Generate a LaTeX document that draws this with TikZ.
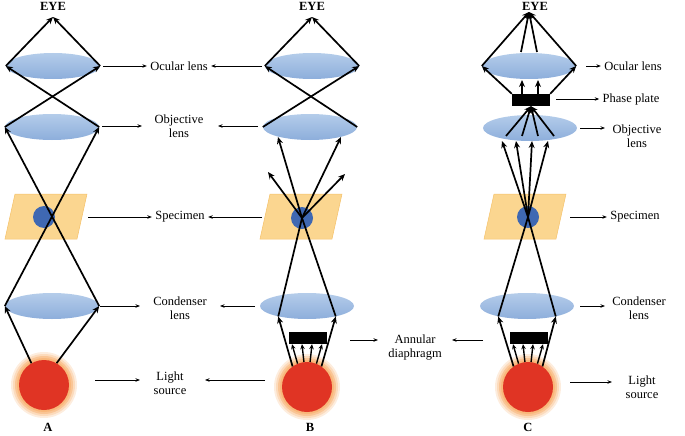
\documentclass[tikz,border=0pt]{standalone}
\usepackage{fontspec}
\setmainfont{Liberation Serif}
\usetikzlibrary{shapes.geometric,arrows.meta}
\definecolor{lensA}{HTML}{B4CCEA}
\definecolor{lensB}{HTML}{8DAEDB}
\definecolor{spec}{HTML}{FBD690}
\definecolor{specE}{HTML}{F5C26B}
\definecolor{dotc}{HTML}{3F68B2}
\definecolor{redc}{HTML}{E03424}
\definecolor{glowc}{HTML}{F9B77A}
\tikzset{
 lens/.style={ellipse,minimum width=94pt,minimum height=26pt,inner sep=0pt,top color=lensA,bottom color=lensB,draw=none},
 ray/.style={line width=1.7pt,-{Stealth[length=7pt,width=6pt]}},
 sray/.style={line width=1.4pt,-{Stealth[length=5pt,width=4.5pt]}},
 pl/.style={line width=1.7pt},
 lab/.style={-{Stealth[length=4.5pt,width=3.5pt]},line width=0.8pt},
 txt/.style={font=\fontsize{12.5}{14}\selectfont,align=center},
 big/.style={font=\bfseries\fontsize{12.5}{14}\selectfont},
 plate/.style={fill=black,minimum width=38pt,minimum height=12pt,inner sep=0pt},
 dot/.style={circle,fill=dotc,minimum size=22pt,inner sep=0pt},
 src/.style={circle,fill=redc,minimum size=50pt,inner sep=0pt},
}
\newcommand{\specimen}[1]{%
 \fill[spec,draw=specE,line width=0.5pt] (#1+10,194) -- (#1+82,194) -- (#1+72,239) -- (#1,239) -- cycle;}
\newcommand{\glow}[2]{%
 \fill[glowc!25] (#1,#2) circle (33pt);
 \fill[glowc!50] (#1,#2) circle (31pt);
 \fill[glowc!80] (#1,#2) circle (29pt);
 \fill[glowc] (#1,#2) circle (27pt);}
\begin{document}
\begin{tikzpicture}[x=1pt,y=-1pt]
\useasboundingbox (0,0) rectangle (685,436);
% ---------- A ----------
\node[big] (eyeA) at (53,6) {EYE};
\coordinate (tA) at (53,17);
\node[lens] (ocA) at (53,66) {};
\node[lens] (obA) at (52,127) {};
\specimen{5}
\node[dot] (dA) at (44,217) {};
\node[lens] (coA) at (52,306) {};
\glow{44}{385}
\node[src] (lA) at (44,385) {};
\node[big] (nA) at (48,427) {A};
\draw[ray] (lA.120) -- (coA.west);
\draw[ray] (lA.60) -- (coA.east);
\draw[ray] (coA.west) -- (obA.east);
\draw[ray] (coA.east) -- (obA.west);
\draw[ray] (obA.west) -- (ocA.east);
\draw[ray] (obA.east) -- (ocA.west);
\draw[ray] (ocA.west) -- (tA);
\draw[ray] (ocA.east) -- (tA);
% ---------- B ----------
\node[big] (eyeB) at (312,6) {EYE};
\coordinate (tB) at (312,17);
\node[lens] (ocB) at (312,66) {};
\node[lens] (obB) at (310,127) {};
\specimen{260}
\node[dot] (dB) at (302,218) {};
\node[lens] (coB) at (307,306) {};
\node[plate] (apB) at (308,338) {};
\glow{307}{387}
\node[src] (lB) at (307,387) {};
\node[big] (nB) at (310,427) {B};
\coordinate (sB1) at (268,172);
\coordinate (sB2) at (345,174);
\coordinate (oB1) at (278,137);
\coordinate (oB2) at (341,137);
\draw[ray] (lB.125) -- (coB.200);
\draw[ray] (lB.55) -- (coB.-20);
\foreach \a/\x in {112/292,97/302,83/312,68/322}
  \draw[sray] (lB.\a) -- (apB.south -| \x,0);
\draw[pl] (coB.200) -- (dB.center);
\draw[pl] (coB.-20) -- (dB.center);
\draw[ray] (dB.center) -- (sB1);
\draw[ray] (dB.center) -- (sB2);
\draw[ray] (dB.center) -- (oB1);
\draw[ray] (dB.center) -- (oB2);
\draw[ray] (obB.west) -- (ocB.east);
\draw[ray] (obB.east) -- (ocB.west);
\draw[ray] (ocB.west) -- (tB);
\draw[ray] (ocB.east) -- (tB);
% ---------- C ----------
\node[big] (eyeC) at (535,6) {EYE};
\coordinate (tC) at (529,12);
\node[lens] (ocC) at (529,66) {};
\node[plate] (ppC) at (531,100) {};
\node[lens] (obC) at (530,128) {};
\specimen{484}
\node[dot] (dC) at (528,217) {};
\node[lens] (coC) at (527,306) {};
\node[plate] (apC) at (529,338) {};
\glow{528}{387}
\node[src] (lC) at (528,387) {};
\node[big] (nC) at (528,427) {C};
\draw[ray] (lC.125) -- (coC.200);
\draw[ray] (lC.55) -- (coC.-20);
\foreach \a/\x in {112/513,97/523,83/533,68/543}
  \draw[sray] (lC.\a) -- (apC.south -| \x,0);
\draw[pl] (coC.200) -- (dC.center);
\draw[pl] (coC.-20) -- (dC.center);
\foreach \x in {502,516,532,548}
  \draw[ray] (dC.center) -- (\x,141);
\foreach \x in {506,522,538,554}
  \draw[ray] (\x,136) -- (ppC.south);
\draw[ray] (ppC.north west) -- (ocC.west);
\draw[ray] (ppC.north east) -- (ocC.east);
\draw[ray] (ppC.north -| 522,0) -- (522,80);
\draw[ray] (ppC.north -| 538,0) -- (538,80);
\draw[ray] (ocC.west) -- (tC);
\draw[ray] (ocC.east) -- (tC);
\draw[ray] (521,52) -- (tC);
\draw[ray] (537,52) -- (tC);
% ---------- labels ----------
\node[txt] (Loc) at (179,66) {Ocular lens};
\node[txt] (Lob) at (179,126) {Objective\\lens};
\node[txt] (Lsp) at (180,217) {Specimen};
\node[txt] (Lco) at (180,308) {Condenser\\lens};
\node[txt] (Lls) at (170,383) {Light\\source};
\node[txt] (Lad) at (415,348) {Annular\\diaphragm};
\node[txt] (Roc) at (633,66) {Ocular lens};
\node[txt] (Rpp) at (631,99) {Phase plate};
\node[txt] (Rob) at (637,136) {Objective\\lens};
\node[txt] (Rsp) at (635,217) {Specimen};
\node[txt] (Rco) at (639,308) {Condenser\\lens};
\node[txt] (Rls) at (642,387) {Light\\source};
\draw[lab] (103,66) -- (Loc.west);
\draw[lab] (262,66) -- (Loc.east);
\draw[lab] (102,126) -- (142,126);
\draw[lab] (258,126) -- (218,126);
\draw[lab] (88,217) -- (Lsp.west);
\draw[lab] (262,217) -- (Lsp.east);
\draw[lab] (100,306) -- (140,306);
\draw[lab] (255,306) -- (220,306);
\draw[lab] (95,380) -- (140,380);
\draw[lab] (265,380) -- (205,380);
\draw[lab] (350,340) -- (378,340);
\draw[lab] (483,340) -- (452,340);
\draw[lab] (586,66) -- (Roc.west);
\draw[lab] (556,99) -- (Rpp.west);
\draw[lab] (580,128) -- (605,128);
\draw[lab] (570,217) -- (Rsp.west);
\draw[lab] (580,306) -- (605,306);
\draw[lab] (570,382) -- (612,382);
\end{tikzpicture}
\end{document}
